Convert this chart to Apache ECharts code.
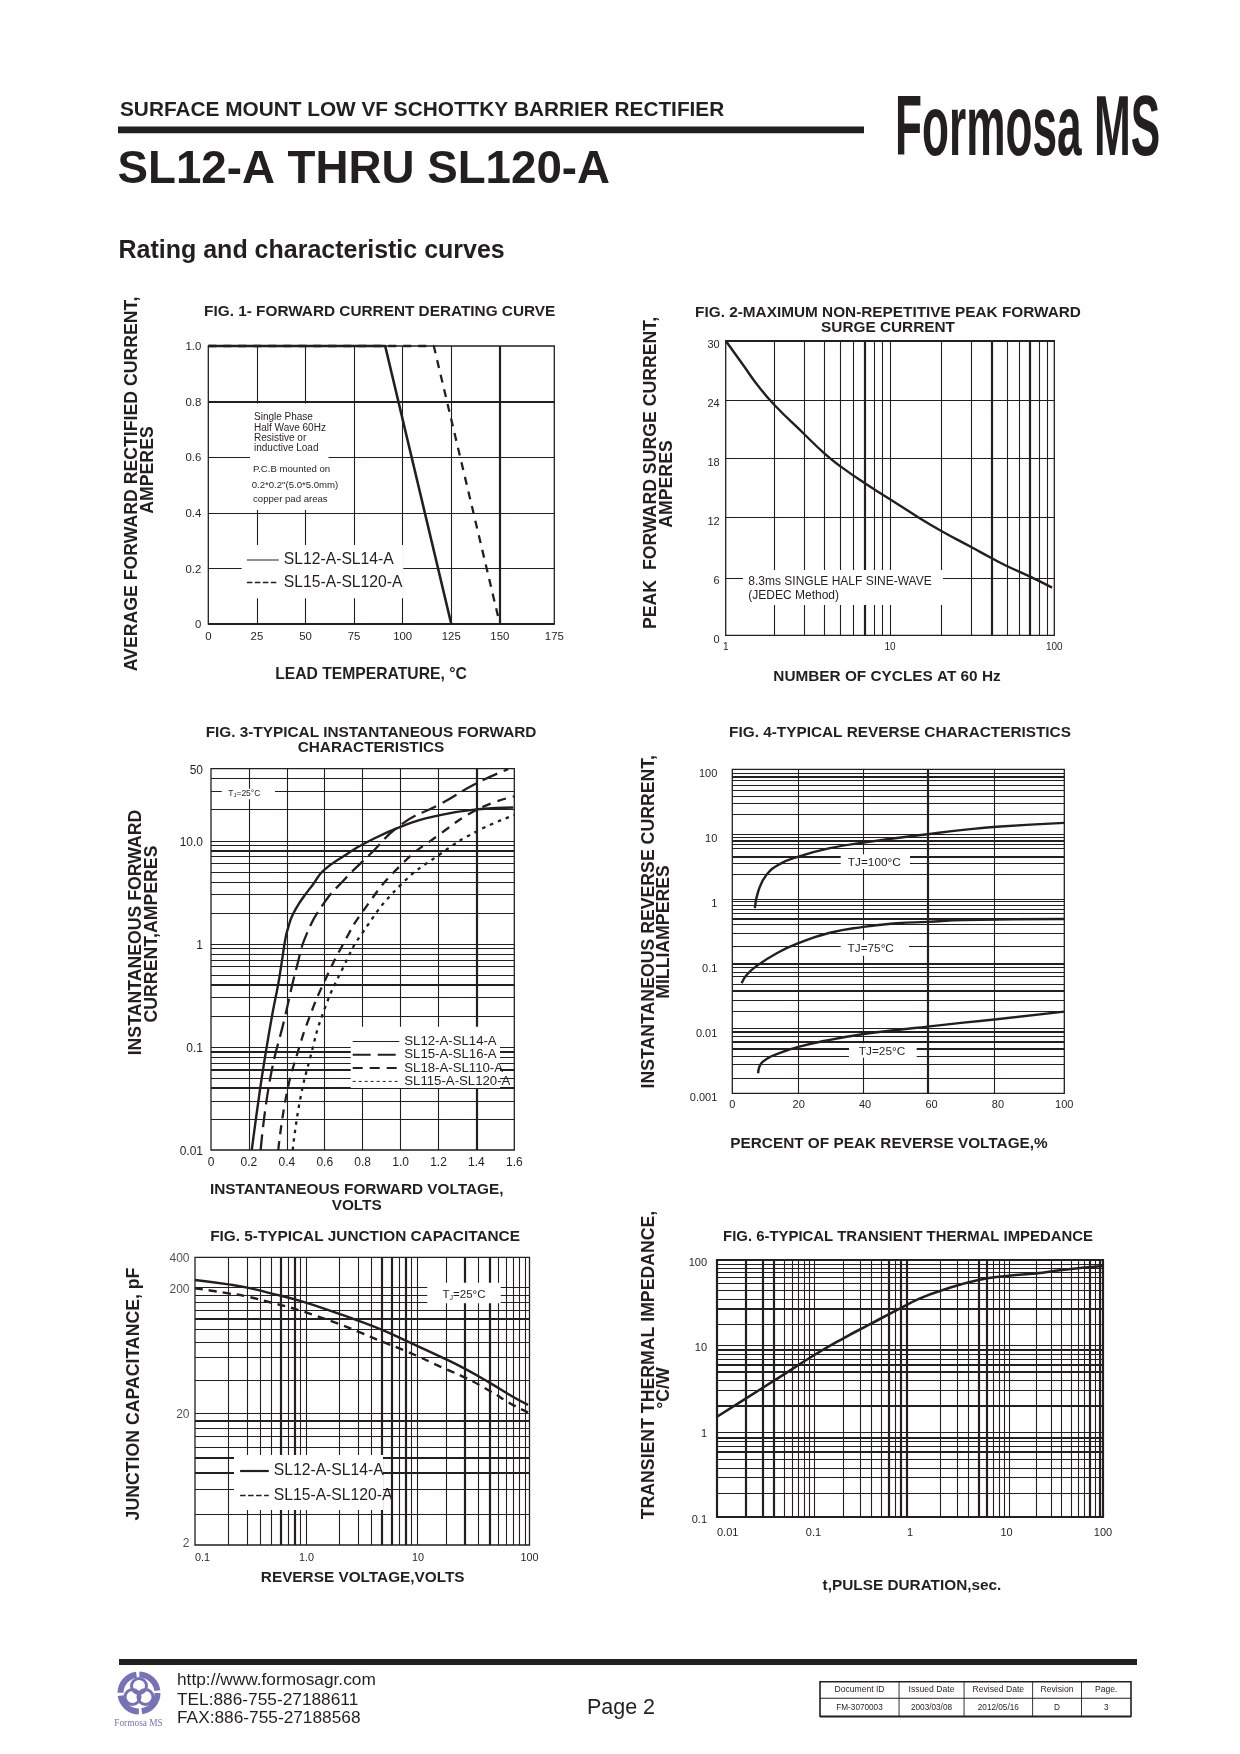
<!DOCTYPE html>
<html><head><meta charset="utf-8">
<style>html,body{margin:0;padding:0;background:#fff}#c{width:1240px;height:1754px}</style>
<script src="https://cdn.jsdelivr.net/npm/echarts@6/dist/echarts.min.js"></script>
</head><body><div id="c"></div>
<script>
// ---------- Data ----------
const fig1Solid=[[0,1],[91,1],[125,0]];
const fig1Dash=[[0,1],[116,1],[150,0]];
const fig1TickValues=[0,25,50,75,100,125,150,178];
const fig1TickLabels=['0','25','50','75','100','125','150','175'];
const fig1GridX=[25,50,75,100,125], fig1GridXThick=[150];
const fig1GridY=[0.6,0.4,0.2], fig1GridYThick=[0.8,0];

const fig2Curve=[[1,30],[1.28,27.5],[1.59,25.3],[1.98,23.45],[3,20.5],[4,18.5],[5,17.2],[7,15.5],[10,13.85],[14.6,12.1],[20.4,10.65],[31.4,8.96],[41.7,7.84],[51.4,7.06],[71.3,5.97],[97,4.85]];
const fig2GridX=[1.98,3,4,5,6,8,9,10,20.4,31.4,51.4,61.4,81,90.8], fig2GridXThick=[7,41.7,71.3];
const fig2GridY=[23.9,18,12,5.8], fig2GridYThick=[30];

const fig3Solid=[[0.215,0.01],[0.258,0.038],[0.288,0.086],[0.324,0.21],[0.355,0.41],[0.373,0.66],[0.394,1.16],[0.408,1.45],[0.425,1.81],[0.452,2.26],[0.487,2.83],[0.54,3.81],[0.593,5.13],[0.716,7.4],[0.804,9.3],[1.006,13.8],[1.208,17.7],[1.408,20.2],[1.595,21]];
const fig3LongDash=[[0.262,0.01],[0.311,0.048],[0.39,0.195],[0.452,0.594],[0.505,1.25],[0.593,2.44],[0.698,4.1],[0.839,7.4],[1.006,14.5],[1.208,22.6],[1.408,36.6],[1.568,49.5]];
const fig3ShortDash=[[0.355,0.01],[0.399,0.035],[0.461,0.093],[0.522,0.2],[0.593,0.41],[0.698,1],[0.804,2.1],[0.997,5.7],[1.208,11.6],[1.408,20.2],[1.6,27]];
const fig3Dotted=[[0.431,0.01],[0.469,0.03],[0.522,0.077],[0.593,0.218],[0.698,0.594],[0.795,1.25],[0.997,3.67],[1.208,7.4],[1.408,12.5],[1.6,17.7]];
const fig3GridX=[0.2,0.4,0.6,0.8,1,1.2], fig3GridXThick=[1.4];
const fig3GridY=[40,30,20,10,9,7,6,5,4,3,2,1,0.9,0.8,0.7,0.6,0.5,0.3,0.2,0.1,0.08,0.07,0.05,0.03,0.02];
const fig3GridYThick=[8,0.4,0.09,0.06,0.04];

const fig4T100=[[6.8,0.72],[7.8,1.3],[10.3,2.35],[14.4,3.47],[19.9,4.5],[29.4,6.06],[39.5,7.4],[58.8,9.95],[69.6,11.6],[79.6,13],[100,14.9]];
const fig4T75=[[2.8,0.05],[4.3,0.067],[7.3,0.092],[13.4,0.145],[19.9,0.207],[29.4,0.3],[39.5,0.37],[49.5,0.42],[58.8,0.442],[69.6,0.47],[100,0.49]];
const fig4T25=[[7.8,0.00204],[8.1,0.00252],[10.3,0.00337],[14.4,0.0042],[19.9,0.0052],[29.4,0.00668],[39.5,0.0082],[49.5,0.0095],[58.8,0.0107],[69.6,0.0123],[79.6,0.0139],[100,0.0182]];
const fig4GridX=[19.9,39.5,79], fig4GridXThick=[58.9];
const fig4GridY=[86.8,66.9,57.6,48.2,38.9,29.6,20.2,10,9,7,6,3.5,2.4,1,0.91,0.81,0.7,0.59,0.4,0.295,0.184,0.088,0.075,0.063,0.049,0.0276,0.0182,0.01,0.0077,0.0037,0.0028,0.0017];
const fig4GridYThick=[77.5,8,4.5,0.49,0.1,0.038,0.009,0.0062,0.0049];

const fig5Solid=[[0.1,263.6],[0.2,243],[0.2946,229],[0.479,206],[0.877,179],[1.97,141],[2.9,124.7],[4.77,105],[7.76,86.2],[17.9,61.1],[26.5,51.2],[43.7,39.8],[70.9,30.7],[97,26.4]];
const fig5Dash=[[0.1,226],[0.2,206],[0.2946,194],[0.479,174],[0.877,150],[1.97,117],[2.9,101.8],[4.77,84.7],[7.76,71.3],[17.9,50.9],[26.5,43.6],[43.7,34.3],[70.9,26.4],[97,23]];
const fig5YTicks=[2,20,200,400];
const fig5GridX=[0.2,0.295,0.384,0.479,0.684,0.877,0.986,1.97,2.9,3.78,6.84,8.7,9.8,17.9,34.6,52.4,61.5,70.9,81.2,90.8];
const fig5GridXThick=[0.585,0.781,4.77,5.76,7.76,26.5,43.7];
const fig5GridY=[230,197.6,173.7,150,106.9,83.6,63.4,41.8,22.6,17.1,14.7,12.2,5.57,3.52];
const fig5GridYThick=[129.4,19.8,10.05,7.58];

const fig6Curve=[[0.01,1.48],[0.02,2.43],[0.039,3.9],[0.102,7.78],[0.204,12.2],[0.4,18.2],[0.79,27.3],[1.27,35.7],[2.04,43.5],[5.11,58.4],[10.6,65.6],[20.1,69.8],[37.6,76.4],[100,85]];
const fig6GridX=[0.0503,0.0599,0.069,0.0797,0.0904,0.101,0.2037,0.3055,0.397,0.505,0.704,2.08,3.09,4.02,7.3,8.42,9.48,10.7,20.1,29.4,37.3,46.6,55.5,64,82.6];
const fig6GridXThick=[0.02,0.03,0.039,0.601,0.801,0.92,5.19,6.24,73.3,91.6];
const fig6GridY=[89.8,80,71.8,62.8,53.4,43.9,34.8,17.7,10,7.92,6.92,3.98,3.01,0.965,0.757,0.662,0.475,0.37,0.288,0.187];
const fig6GridYThick=[100,27,8.98,5.95,4.97,1.98,0.851,0.574];

// ---------- Texts ----------
const INK='#231f20', FONT='"Liberation Sans"';
const nameA='SL12-A-SL14-A', nameB='SL15-A-SL120-A', nameC='SL15-A-SL16-A', nameD='SL18-A-SL110-A', nameE='SL115-A-SL120-A';
const TITLE=15.35, XNAME=15.35, YNAME=17.7;

const fmt=v=>String(+(+v).toPrecision(6));
function grid(l,t,w,h,bw){return {left:l,top:t,width:w,height:h,show:true,borderColor:INK,borderWidth:bw||1.3,backgroundColor:'transparent',containLabel:false};}
function labelOf(size,margin,extra){return Object.assign({color:INK,fontFamily:FONT,fontSize:size,margin:margin,formatter:fmt,hideOverlap:false,showMinLabel:true,showMaxLabel:true},extra||{});}
function drop(px){return {verticalAlign:'top',lineHeight:px*2};}
function axis(g,type,min,max,label,extra){
  return Object.assign({type:type,gridIndex:g,min:min,max:max,axisLine:{show:false},axisTick:{show:false},splitLine:{show:false},minorSplitLine:{show:false},axisLabel:label},extra||{});
}
function mark(xThin,xThick,yThin,yThick){
  const l=(k,v,w)=>({[k]:v,lineStyle:{color:INK,width:w,type:'solid'}});
  return {silent:true,symbol:'none',animation:false,precision:8,label:{show:false},emphasis:{disabled:true},
    data:[].concat(xThin.map(v=>l('xAxis',v,1.1)),xThick.map(v=>l('xAxis',v,2.2)),yThin.map(v=>l('yAxis',v,1.1)),yThick.map(v=>l('yAxis',v,2.2)))};
}
function curve(name,i,data,width,dash,smooth,ml){
  const s={name:name,type:'line',xAxisIndex:i,yAxisIndex:i,data:data,symbol:'none',smooth:smooth?0.5:false,z:10,silent:true,clip:false,
    lineStyle:{color:INK,width:width,type:dash||'solid',cap:'butt'},emphasis:{disabled:true}};
  if(ml)s.markLine=ml;
  return s;
}
function legendItem(name,width,dash){return {name:name,lineStyle:{color:INK,width:width,type:dash||'solid',opacity:1},itemStyle:{opacity:0,color:'transparent',borderWidth:0}};}
function legend(l,t,w,h,gap,size,items){
  return {show:true,orient:'vertical',left:l,top:t,padding:0,itemWidth:w,itemHeight:h,itemGap:gap,z:7,selectedMode:false,
    textStyle:{color:INK,fontFamily:FONT,fontSize:size},data:items};
}

// ---------- Graphic helpers ----------
const els=[];
function T(x,y,s,size,o){o=o||{};
  const font=(o.bold?'bold ':'')+size+'px '+(o.family||FONT);
  const a=o.align||'center';
  const dy=size*0.07;
  const e={type:'text',x:o.rot?x+dy:x,y:o.rot?y:y+dy,rotation:o.rot?Math.PI/2:0,z:8,silent:true,
    style:{text:s,fill:o.fill||INK,font:font,align:a,textAlign:a,verticalAlign:'middle',textVerticalAlign:'middle'}};
  if(o.scaleX)e.scaleX=o.scaleX;
  if(o.rich)e.style.rich=o.rich;
  els.push(e);
}
function box(x,y,w,h){els.push({type:'rect',z:6,silent:true,shape:{x:x,y:y,width:w,height:h},style:{fill:'#fff'}});}
function bar(x,y,w,h){els.push({type:'rect',z:8,silent:true,shape:{x:x,y:y,width:w,height:h},style:{fill:INK}});}
function tj(x,y,size){
  const small=Math.round(size*0.65);
  T(x,y,'{n|T}{s|J}{n|=25°C}',size,{rich:{n:{fontSize:size,fontFamily:FONT,fill:INK},s:{fontSize:small,fontFamily:FONT,fill:INK,verticalAlign:'bottom',padding:[size*0.18,0,0,0]}}});
}

// Page header
T(120,109,'SURFACE MOUNT LOW VF SCHOTTKY BARRIER RECTIFIER',20.8,{bold:1,align:'left'});
bar(118,126.5,746,6.8);
T(117.5,167,'SL12-A THRU SL120-A',45.7,{bold:1,align:'left'});
T(118.5,249.5,'Rating and characteristic curves',25,{bold:1,align:'left'});
T(895,125,'Formosa MS',86,{bold:1,align:'left',scaleX:0.514});

// Figure 1 text
T(379.7,310.7,'FIG. 1- FORWARD CURRENT DERATING CURVE',TITLE,{bold:1});
T(371,673.5,'LEAD TEMPERATURE, °C',15.7,{bold:1});
T(130.7,484,'AVERAGE FORWARD RECTIFIED CURRENT,',YNAME,{bold:1,rot:1});
T(146.7,470,'AMPERES',YNAME,{bold:1,rot:1});
box(250,403.5,78.5,106.5);
['Single Phase','Half Wave 60Hz','Resistive or','inductive Load'].forEach((s,i)=>T(254,417+i*10.1,s,10,{align:'left'}));
T(253,468.3,'P.C.B mounted on',9.6,{align:'left'});
T(251.7,484.3,'0.2*0.2"(5.0*5.0mm)',9.6,{align:'left'});
T(253,498.3,'copper pad areas',9.6,{align:'left'});
box(241.7,545,161.6,53.3);

// Figure 2 text
T(888,311.7,'FIG. 2-MAXIMUM NON-REPETITIVE PEAK FORWARD',TITLE,{bold:1});
T(888,326.7,'SURGE CURRENT',TITLE,{bold:1});
T(887,675.7,'NUMBER OF CYCLES AT 60 Hz',XNAME,{bold:1});
T(650,473,'PEAK  FORWARD SURGE CURRENT,',YNAME,{bold:1,rot:1});
T(666,484,'AMPERES',YNAME,{bold:1,rot:1});
box(743,570,200,35);
T(748.3,581,'8.3ms SINGLE HALF SINE-WAVE',12,{align:'left'});
T(748.3,595,'(JEDEC Method)',12,{align:'left'});

// Figure 3 text
T(371,731.7,'FIG. 3-TYPICAL INSTANTANEOUS FORWARD',TITLE,{bold:1});
T(371,746.7,'CHARACTERISTICS',TITLE,{bold:1});
T(356.7,1189,'INSTANTANEOUS FORWARD VOLTAGE,',XNAME,{bold:1});
T(356.7,1205,'VOLTS',XNAME,{bold:1});
T(135,932.5,'INSTANTANEOUS FORWARD',YNAME,{bold:1,rot:1});
T(150.7,934,'CURRENT,AMPERES',YNAME,{bold:1,rot:1});
box(221.7,788.7,53.3,10.6);
tj(244.3,793.3,8.5);
box(350.7,1026.7,149.3,61.3);

// Figure 4 text
T(900,731.7,'FIG. 4-TYPICAL REVERSE CHARACTERISTICS',TITLE,{bold:1});
T(889,1142.3,'PERCENT OF PEAK REVERSE VOLTAGE,%',XNAME,{bold:1});
T(648.3,921.7,'INSTANTANEOUS REVERSE CURRENT,',YNAME,{bold:1,rot:1});
T(663.3,932,'MILLIAMPERES',YNAME,{bold:1,rot:1});
box(840.7,854.3,69.3,14.7); T(874.3,861.7,'TJ=100°C',11.8);
box(840.7,940,68.3,15.7);   T(870.7,947.7,'TJ=75°C',11.8);
box(849,1043.3,67.7,14.4);  T(882,1051,'TJ=25°C',11.8);

// Figure 5 text
T(365,1235.7,'FIG. 5-TYPICAL JUNCTION CAPACITANCE',TITLE,{bold:1});
T(362.7,1576.7,'REVERSE VOLTAGE,VOLTS',XNAME,{bold:1});
T(133.3,1394,'JUNCTION CAPACITANCE, pF',YNAME,{bold:1,rot:1});
box(427.3,1282.7,73.4,20.6);
tj(464,1294.3,11.5);
box(234,1455,149,55);

// Figure 6 text
T(908,1235.7,'FIG. 6-TYPICAL TRANSIENT THERMAL IMPEDANCE',14.9,{bold:1});
T(912,1584.7,'t,PULSE DURATION,sec.',XNAME,{bold:1});
T(648,1365,'TRANSIENT THERMAL IMPEDANCE,',YNAME,{bold:1,rot:1});
T(663.3,1388,'°C/W',YNAME,{bold:1,rot:1});

// Footer
bar(119,1659,1018,6);
const PURPLE='#7772b6';
els.push({type:'circle',z:7,silent:true,shape:{cx:139,cy:1693,r:18.5},style:{fill:'none',stroke:PURPLE,lineWidth:6,lineDash:[26,3]}});
[[139,1686,7.5],[132.5,1697,7.5],[145.5,1697,7.5]].forEach(c=>els.push({type:'circle',z:7,silent:true,shape:{cx:c[0],cy:c[1],r:c[2]},style:{fill:'none',stroke:PURPLE,lineWidth:3}}));
T(138.5,1722,'Formosa MS',11,{family:'"Liberation Serif"',fill:PURPLE,scaleX:0.85});
T(177,1679.5,'http://www.formosagr.com',17.3,{align:'left'});
T(177,1699,'TEL:886-755-27188611',17.3,{align:'left'});
T(177,1717.5,'FAX:886-755-27188568',17.3,{align:'left'});
T(621,1706.5,'Page 2',21.5);
// Revision table
const tableHeaders=['Document ID','Issued Date','Revised Date','Revision','Page.'];
const tableValues=['FM-3070003','2003/03/08','2012/05/16','D','3'];
const tableCols=[820,899,964,1032.6,1081.4,1131];
bar(820,1681,311,1.6); bar(820,1715.4,311,2); bar(820,1697.8,311,1);
tableCols.forEach((x,i)=>bar(x-(i==0||i==5?0.8:0.4),1681,(i==0||i==5)?1.6:0.9,36));
tableHeaders.forEach((s,i)=>T((tableCols[i]+tableCols[i+1])/2,1689.5,s,8.6));
tableValues.forEach((s,i)=>T((tableCols[i]+tableCols[i+1])/2,1707,s,8.2));

// ---------- Chart ----------
const fig5TickOffsets=[[0,-1],[0,-5],[0,-5],[0,1]];
const option={
  animation:false,
  backgroundColor:'#fff',
  grid:[grid(208.3,346,346,278),grid(725.7,340.7,328.6,294.6),grid(211,768.7,303.3,381.3),grid(732.3,769.3,332,324),grid(195,1257.3,334.5,287.7),grid(717,1260,386,257,2.2)],
  xAxis:[
    axis(0,'value',0,178,labelOf(11.4,7,{customValues:fig1TickValues,formatter:v=>fig1TickLabels[fig1TickValues.indexOf(v)]})),
    axis(1,'log',1,100,labelOf(10,7)),
    axis(2,'value',0,1.6,labelOf(12,7,{formatter:v=>v==0?'0':(+v).toFixed(1)}),{interval:0.2}),
    axis(3,'value',0,100,labelOf(11,6),{interval:20}),
    axis(4,'log',0.1,100,labelOf(10.8,8,{alignMinLabel:'left',formatter:v=>Math.abs(v-1)<1e-6?'1.0':fmt(v)})),
    axis(5,'log',0.01,100,labelOf(11,10,{alignMinLabel:'left'}))
  ],
  yAxis:[
    axis(0,'value',0,1,labelOf(11.4,7,Object.assign(drop(1),{formatter:v=>(v==0?'0':(+v).toFixed(1))})),{interval:0.2}),
    axis(1,'value',0,30,labelOf(11,6,drop(4.5)),{interval:6}),
    axis(2,'log',0.01,50,labelOf(12,8,Object.assign(drop(2),{formatter:v=>Math.abs(v-10)<1e-6?'10.0':fmt(v)}))),
    axis(3,'log',0.001,100,labelOf(11,15,drop(5))),
    axis(4,'log',2,400,labelOf(12,5,{show:false})),
    axis(5,'log',0.1,100,labelOf(11,10,drop(2.5)))
  ],
  legend:[
    legend(246,552,32,14,6.5,15.7,[legendItem(nameA,1.1),legendItem(nameB,1.7,[5.5,2.5])]),
    legend(351.7,1035,46.6,10,0.3,13.2,[legendItem(nameA,1.1),legendItem(nameC,2,[18,7]),legendItem(nameD,2,[10,7]),legendItem(nameE,1,[3,3])]),
    legend(239,1463,28.7,14,8.5,15.7,[legendItem(nameA,2.2),legendItem(nameB,1.7,[5.5,2.5])])
  ],
  series:[
    curve(nameA,0,fig1Solid,2.6,null,false,mark(fig1GridX,fig1GridXThick,fig1GridY,fig1GridYThick)),
    curve(nameB,0,fig1Dash,2.3,[8,7],false),
    curve('Peak surge current',1,fig2Curve,2.4,null,true,mark(fig2GridX,fig2GridXThick,fig2GridY,fig2GridYThick)),
    curve(nameA,2,fig3Solid,2.4,null,true,mark(fig3GridX,fig3GridXThick,fig3GridY,fig3GridYThick)),
    curve(nameC,2,fig3LongDash,2.3,[16,7],true),
    curve(nameD,2,fig3ShortDash,2.3,[9,7],true),
    curve(nameE,2,fig3Dotted,2.3,[3.5,5],true),
    curve('TJ=100°C',3,fig4T100,2.4,null,true,mark(fig4GridX,fig4GridXThick,fig4GridY,fig4GridYThick)),
    curve('TJ=75°C',3,fig4T75,2.4,null,true),
    curve('TJ=25°C',3,fig4T25,2.4,null,true),
    curve(nameA,4,fig5Solid,2.4,null,true,mark(fig5GridX,fig5GridXThick,fig5GridY,fig5GridYThick)),
    curve(nameB,4,fig5Dash,2.4,[8,6],true),
    {type:'scatter',name:'fig5 y ticks',xAxisIndex:4,yAxisIndex:4,clip:false,symbol:'circle',symbolSize:1,silent:true,z:10,itemStyle:{color:'transparent'},
      data:fig5YTicks.map((v,i)=>({value:[0.1,v],label:{offset:fig5TickOffsets[i]}})),
      label:{show:true,position:'left',distance:5,color:INK,fontFamily:FONT,fontSize:12,formatter:p=>String(p.value[1])}},
    curve('Thermal impedance',5,fig6Curve,2.6,null,true,mark(fig6GridX,fig6GridXThick,fig6GridY,fig6GridYThick))
  ],
  graphic:{elements:els}
};
echarts.init(document.getElementById('c'),null,{renderer:'canvas',width:1240,height:1754}).setOption(option);
</script></body></html>
